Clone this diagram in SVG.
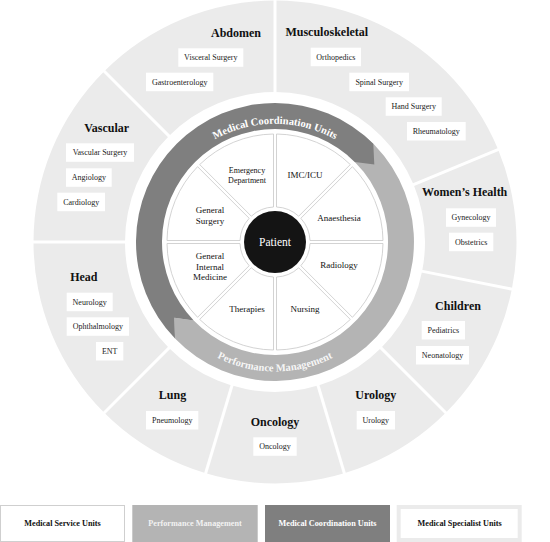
<svg xmlns="http://www.w3.org/2000/svg" width="550" height="542" viewBox="0 0 550 542">
<style>
  text { font-family: "Liberation Serif", "Times New Roman", serif; }
  .title { font-size: 12px; font-weight: bold; fill: #111; text-anchor: middle; }
  .box { fill: #ffffff; }
  .lbl { font-size: 8px; fill: #222; text-anchor: middle; }
  .seg { fill: #ffffff; stroke: #c8c8c8; stroke-width: 0.8; }
  .seglbl { font-size: 9px; fill: #111; text-anchor: middle; }
  .sep { stroke: #ffffff; stroke-width: 3; }
  .band { font-size: 10.5px; font-weight: bold; fill: #ffffff; }
  .leg { font-size: 8.2px; font-weight: bold; text-anchor: middle; }
</style>
<defs>
  <path id="topArc" d="M161.3,200.62 A122.5,122.5 0 0 1 388.7,200.62"/>
  <path id="botArc" d="M153.31,286.29 A129.5,129.5 0 0 0 396.69,286.29"/>
</defs>
<rect width="550" height="542" fill="#ffffff"/>

<!-- outer ring of specialist units -->
<g id="outer-ring">
  <path fill="#ebebeb" fill-rule="evenodd" d="M33.5,242 A241.5,241.5 0 1 1 516.5,242 A241.5,241.5 0 1 1 33.5,242 Z M125,242 A150,150 0 1 0 425,242 A150,150 0 1 0 125,242 Z"/>
  <line class="sep" x1="275" y1="94" x2="275" y2="-2"/>
  <line class="sep" x1="170.35" y1="137.35" x2="102.5" y2="69.5"/>
  <line class="sep" x1="127" y1="242" x2="31" y2="242"/>
  <line class="sep" x1="170.35" y1="346.65" x2="102.5" y2="414.5"/>
  <line class="sep" x1="232.5" y1="383.8" x2="204.9" y2="475.7"/>
  <line class="sep" x1="317.5" y1="383.8" x2="345.1" y2="475.7"/>
  <line class="sep" x1="379.65" y1="346.65" x2="447.5" y2="414.5"/>
  <line class="sep" x1="420.2" y1="270.9" x2="514.3" y2="289.6"/>
  <line class="sep" x1="411.7" y1="185.4" x2="500.4" y2="148.6"/>
</g>

<g id="abdomen">
  <text class="title" x="236" y="37">Abdomen</text>
  <rect class="box" x="178.3" y="48.3" width="65" height="18.5"/>
  <text class="lbl" x="210.8" y="60.3">Visceral Surgery</text>
  <rect class="box" x="146" y="72.7" width="67.3" height="18.5"/>
  <text class="lbl" x="179.7" y="84.7">Gastroenterology</text>
</g>
<g id="musculoskeletal">
  <text class="title" x="326.8" y="36">Musculoskeletal</text>
  <rect class="box" x="310.7" y="47.7" width="50.3" height="18.5"/>
  <text class="lbl" x="335.8" y="59.7">Orthopedics</text>
  <rect class="box" x="349.3" y="72.7" width="59.7" height="18.5"/>
  <text class="lbl" x="379.2" y="84.7">Spinal Surgery</text>
  <rect class="box" x="385.7" y="97.3" width="56" height="18.5"/>
  <text class="lbl" x="413.7" y="109.3">Hand Surgery</text>
  <rect class="box" x="407" y="122" width="58.7" height="18.5"/>
  <text class="lbl" x="436.3" y="134">Rheumatology</text>
</g>
<g id="vascular">
  <text class="title" x="106.7" y="131.7">Vascular</text>
  <rect class="box" x="66" y="143.3" width="68" height="18.5"/>
  <text class="lbl" x="100" y="155.3">Vascular Surgery</text>
  <rect class="box" x="66" y="168.3" width="45.7" height="18.5"/>
  <text class="lbl" x="88.8" y="180.3">Angiology</text>
  <rect class="box" x="57.3" y="192.7" width="47.7" height="18.5"/>
  <text class="lbl" x="81.2" y="204.7">Cardiology</text>
</g>
<g id="womens-health">
  <text class="title" x="464.7" y="196">Women’s Health</text>
  <rect class="box" x="446" y="208.3" width="50" height="18.5"/>
  <text class="lbl" x="471" y="220.3">Gynecology</text>
  <rect class="box" x="449" y="232.7" width="44.3" height="18.5"/>
  <text class="lbl" x="471.2" y="244.7">Obstetrics</text>
</g>
<g id="head">
  <text class="title" x="83.8" y="280.7">Head</text>
  <rect class="box" x="66.7" y="292.7" width="46" height="18.5"/>
  <text class="lbl" x="89.7" y="304.7">Neurology</text>
  <rect class="box" x="66.7" y="317.3" width="62.3" height="18.5"/>
  <text class="lbl" x="97.8" y="329.3">Ophthalmology</text>
  <rect class="box" x="96" y="342" width="27.3" height="18.5"/>
  <text class="lbl" x="109.7" y="354">ENT</text>
</g>
<g id="children">
  <text class="title" x="458" y="310">Children</text>
  <rect class="box" x="421.7" y="321" width="43.3" height="18.5"/>
  <text class="lbl" x="443.3" y="333">Pediatrics</text>
  <rect class="box" x="416" y="346" width="53" height="18.5"/>
  <text class="lbl" x="442.5" y="358">Neonatology</text>
</g>
<g id="lung">
  <text class="title" x="172.5" y="399.3">Lung</text>
  <rect class="box" x="146" y="411" width="52.3" height="18.5"/>
  <text class="lbl" x="172.2" y="423">Pneumology</text>
</g>
<g id="urology">
  <text class="title" x="375.8" y="399.3">Urology</text>
  <rect class="box" x="356.7" y="411" width="38.3" height="18.5"/>
  <text class="lbl" x="375.8" y="423">Urology</text>
</g>
<g id="oncology">
  <text class="title" x="275" y="426">Oncology</text>
  <rect class="box" x="253.3" y="437.3" width="43.4" height="18.5"/>
  <text class="lbl" x="275" y="449.3">Oncology</text>
</g>

<!-- band arrows -->
<g id="connectors">
  <path id="performance-band" fill="#b4b4b4" d="M364.35,135.52 A139,139 0 1 1 175.01,338.56 L174.37,317.83 L193.72,320.5 A113,113 0 1 0 347.64,155.44 Z"/>
  <path id="coordination-band" fill="#7f7f7f" d="M175.01,338.56 A139,139 0 0 1 176.71,143.71 A139,139 0 0 1 373.29,143.71 L374.29,164.42 L354.9,162.1 A113,113 0 0 0 195.1,162.1 A113,113 0 0 0 193.72,320.5 L174.37,317.83 Z"/>
  <text class="band"><textPath href="#topArc" startOffset="50%" text-anchor="middle">Medical Coordination Units</textPath></text>
  <text class="band" fill-opacity="0.9"><textPath href="#botArc" startOffset="50%" text-anchor="middle">Performance Management</textPath></text>
</g>

<!-- inner service units -->
<g id="anaesthesia">
  <path class="seg" d="M310,240.5 L383,240.5 A108,108 0 0 0 352.43,166.69 L300.81,218.31 A35,35 0 0 1 310,240.5 Z"/>
  <text class="seglbl" x="339" y="221.3">Anaesthesia</text>
</g>
<g id="imc-icu">
  <path class="seg" d="M298.69,216.19 L350.31,164.57 A108,108 0 0 0 276.5,134 L276.5,207 A35,35 0 0 1 298.69,216.19 Z"/>
  <text class="seglbl" x="305" y="178">IMC/ICU</text>
</g>
<g id="emergency">
  <path class="seg" d="M273.5,207 L273.5,134 A108,108 0 0 0 199.69,164.57 L251.31,216.19 A35,35 0 0 1 273.5,207 Z"/>
  <text class="seglbl" x="247" y="173" style="font-size:8px">Emergency</text>
  <text class="seglbl" x="247" y="182.5" style="font-size:8px">Department</text>
</g>
<g id="general-surgery">
  <path class="seg" d="M249.19,218.31 L197.57,166.69 A108,108 0 0 0 167,240.5 L240,240.5 A35,35 0 0 1 249.19,218.31 Z"/>
  <text class="seglbl" x="210" y="213.3">General</text>
  <text class="seglbl" x="210" y="223.5">Surgery</text>
</g>
<g id="general-internal-medicine">
  <path class="seg" d="M240,243.5 L167,243.5 A108,108 0 0 0 197.57,317.31 L249.19,265.69 A35,35 0 0 1 240,243.5 Z"/>
  <text class="seglbl" x="210" y="259.3">General</text>
  <text class="seglbl" x="210" y="269.5">Internal</text>
  <text class="seglbl" x="210" y="280">Medicine</text>
</g>
<g id="therapies">
  <path class="seg" d="M251.31,267.81 L199.69,319.43 A108,108 0 0 0 273.5,350 L273.5,277 A35,35 0 0 1 251.31,267.81 Z"/>
  <text class="seglbl" x="247" y="311.5">Therapies</text>
</g>
<g id="nursing">
  <path class="seg" d="M276.5,277 L276.5,350 A108,108 0 0 0 350.31,319.43 L298.69,267.81 A35,35 0 0 1 276.5,277 Z"/>
  <text class="seglbl" x="305" y="311.5">Nursing</text>
</g>
<g id="radiology">
  <path class="seg" d="M300.81,265.69 L352.43,317.31 A108,108 0 0 0 383,243.5 L310,243.5 A35,35 0 0 1 300.81,265.69 Z"/>
  <text class="seglbl" x="339" y="268.3">Radiology</text>
</g>
<g id="patient">
  <circle cx="275" cy="242" r="31" fill="#141414"/>
  <text x="275" y="246" style="font-size:11.5px" fill="#ffffff" text-anchor="middle">Patient</text>
</g>

<!-- legend -->
<g id="legend-service">
  <rect x="0.5" y="505.5" width="124" height="36" fill="#ffffff" stroke="#cfcfcf" stroke-width="1"/>
  <text class="leg" x="62.5" y="526.3" fill="#111">Medical Service Units</text>
</g>
<g id="legend-performance">
  <rect x="132.3" y="505" width="125.4" height="37" fill="#b4b4b4"/>
  <text class="leg" x="195" y="526.3" fill="#f2f2f2">Performance Management</text>
</g>
<g id="legend-coordination">
  <rect x="265" y="505" width="125" height="37" fill="#7f7f7f"/>
  <text class="leg" x="327.5" y="526.3" fill="#ffffff">Medical Coordination Units</text>
</g>
<g id="legend-specialist">
  <rect x="398.7" y="507" width="121" height="33" fill="#ffffff" stroke="#ebebeb" stroke-width="4"/>
  <text class="leg" x="459.7" y="526.3" fill="#111">Medical Specialist Units</text>
</g>
</svg>
